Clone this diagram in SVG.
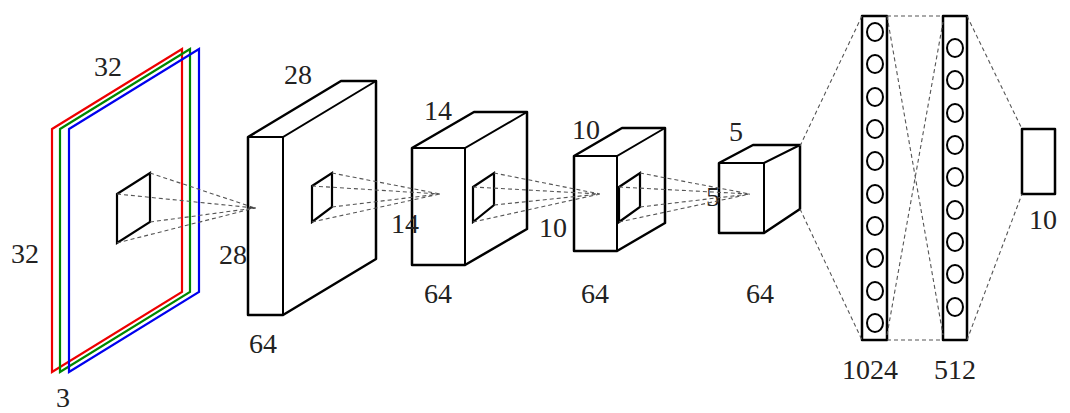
<svg xmlns="http://www.w3.org/2000/svg" width="1070" height="413" viewBox="0 0 1070 413">
<style>
.b{fill:#fff;stroke:#000;stroke-width:2.5;stroke-linejoin:round}
.w{fill:none;stroke:#000;stroke-width:2.2}
.d{fill:none;stroke:#555;stroke-width:1.1;stroke-dasharray:4,3}
.c{fill:none;stroke:#000;stroke-width:2}
text{font-family:"Liberation Serif",serif;font-size:28px;fill:#222}
</style>
<rect width="1070" height="413" fill="#fff"/>
<g id="input">
<polygon points="52,129 182,49 182,292 52,372" fill="none" stroke="#e00" stroke-width="2.2"/>
<polygon points="60,129 190,49 190,292 60,372" fill="none" stroke="#080" stroke-width="2.2"/>
<polygon points="69,129 199,49 199,292 69,372" fill="none" stroke="#00e" stroke-width="2.2"/>
<polygon class="w" points="117,194 150,173 150,222 117,243"/>
<text x="94" y="76">32</text><text x="11" y="263">32</text><text x="56" y="407">3</text>
</g>
<g id="conv1">
<polygon class="b" points="248,137 341,81 376,81 376,259 283,315 248,315"/>
<polyline class="c" points="248,137 283,137 376,81"/>
<line class="c" x1="283" y1="137" x2="283" y2="315"/>
<polygon class="w" points="312,186 332,173 332,207 312,222"/>
<text x="284" y="84">28</text><text x="219" y="264">28</text><text x="249" y="353">64</text>
</g>
<g id="pool1">
<polygon class="b" points="412,148 474,112 527,112 527,229 465,265 412,265"/>
<polyline class="c" points="412,148 465,148 527,112"/>
<line class="c" x1="465" y1="148" x2="465" y2="265"/>
<polygon class="w" points="473,187 494,173 494,205 473,222"/>
<text x="424" y="120">14</text><text x="391" y="233">14</text><text x="424" y="303">64</text>
</g>
<g id="conv2">
<polygon class="b" points="574,156 622,128 665,128 665,223 617,251 574,251"/>
<polyline class="c" points="574,156 617,156 665,128"/>
<line class="c" x1="617" y1="156" x2="617" y2="251"/>
<polygon class="w" points="619,187 640,173 640,207 619,222"/>
<text x="572" y="139">10</text><text x="539" y="237">10</text><text x="581" y="303">64</text>
</g>
<g id="pool2">
<polygon class="b" points="719,163 753,145 800,145 800,209 764,233 719,233"/>
<polyline class="c" points="719,163 764,163 800,145"/>
<line class="c" x1="764" y1="163" x2="764" y2="233"/>
<text x="729" y="141">5</text><text x="706" y="206">5</text><text x="746" y="303">64</text>
</g>
<g id="fc1">
<rect class="b" x="862" y="16" width="25" height="324"/>
<g class="c">
<ellipse cx="875" cy="32" rx="8" ry="9"/><ellipse cx="875" cy="64" rx="8" ry="9"/><ellipse cx="875" cy="97" rx="8" ry="9"/><ellipse cx="875" cy="129" rx="8" ry="9"/><ellipse cx="875" cy="161" rx="8" ry="9"/><ellipse cx="875" cy="194" rx="8" ry="9"/><ellipse cx="875" cy="226" rx="8" ry="9"/><ellipse cx="875" cy="258" rx="8" ry="9"/><ellipse cx="875" cy="291" rx="8" ry="9"/><ellipse cx="875" cy="323" rx="8" ry="9"/>
</g>
<text x="842" y="379">1024</text>
</g>
<g id="fc2">
<rect class="b" x="943" y="16" width="24" height="324"/>
<g class="c">
<ellipse cx="955" cy="48" rx="8" ry="9"/><ellipse cx="955" cy="80" rx="8" ry="9"/><ellipse cx="955" cy="113" rx="8" ry="9"/><ellipse cx="955" cy="145" rx="8" ry="9"/><ellipse cx="955" cy="177" rx="8" ry="9"/><ellipse cx="955" cy="210" rx="8" ry="9"/><ellipse cx="955" cy="242" rx="8" ry="9"/><ellipse cx="955" cy="274" rx="8" ry="9"/><ellipse cx="955" cy="307" rx="8" ry="9"/>
</g>
<text x="934" y="379">512</text>
</g>
<g id="out">
<rect class="b" x="1022" y="129" width="33" height="65"/>
<text x="1029" y="229">10</text>
</g>
<g id="connectors" class="d">
<path d="M150,173L255,208M117,194L255,208M150,222L255,208M117,243L255,208"/>
<line x1="248" y1="208" x2="256" y2="208" stroke="#333" stroke-dasharray="none"/>
<path d="M332,173L440,194M312,186L440,194M332,207L440,194M312,222L440,194"/>
<path d="M494,173L600,194M473,187L600,194M494,205L600,194M473,222L600,194"/>
<path d="M640,173L750,194M619,187L750,194M640,207L750,194M619,222L750,194"/>
<path d="M800,146L862,16M800,209L862,340M887,16L943,16M887,340L943,340M887,16L943,335M887,335L943,22M967,16L1022,129M967,340L1022,194"/>
</g>
</svg>
